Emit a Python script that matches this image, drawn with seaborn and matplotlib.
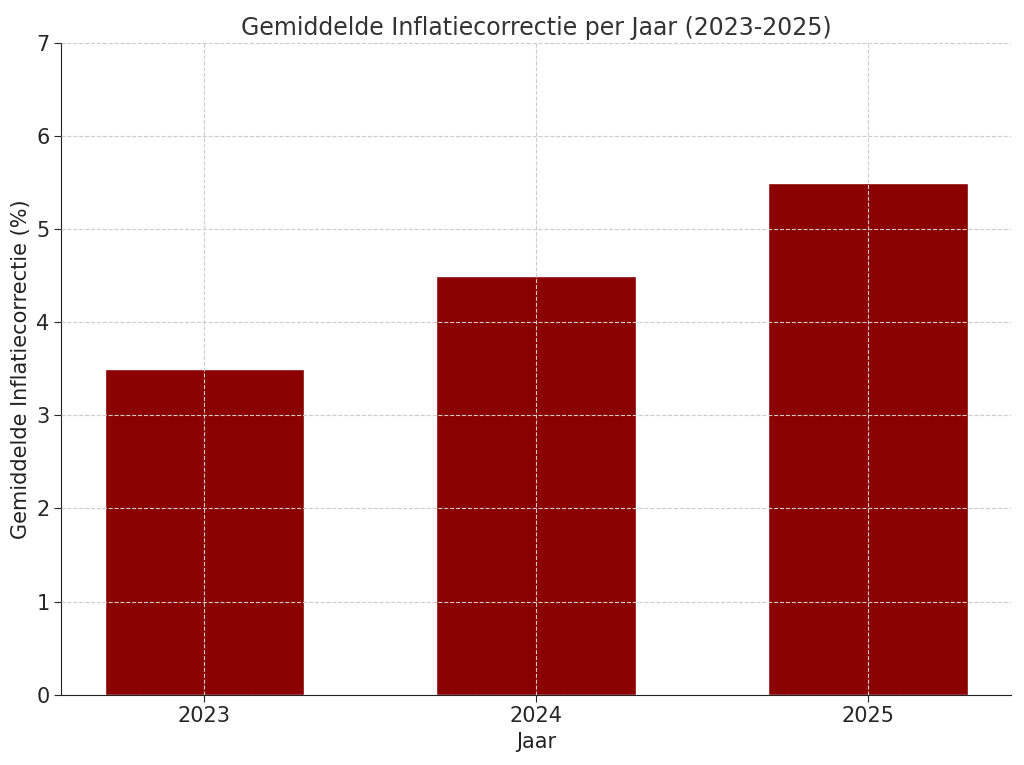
import matplotlib
matplotlib.use("Agg")
import matplotlib.pyplot as plt
import seaborn as sns
import pandas as pd

# Chart data
years = ["2023", "2024", "2025"]
inflation = [3.5, 4.5, 5.5]

df = pd.DataFrame({"Jaar": years, "Inflatie": inflation})

sns.set_style("white")
plt.rcParams['font.family'] = ['DejaVu Sans']

fig, ax = plt.subplots(figsize=(10.24, 7.65), dpi=100)
sns.barplot(data=df, x="Jaar", y="Inflatie", color="darkred", saturation=1, width=0.6, ax=ax)

ax.set_ylim(0, 7)
ax.set_xlim(-0.43, 2.43)
ax.set_title("Gemiddelde Inflatiecorrectie per Jaar (2023-2025)", fontsize=17, color="#333333")
ax.set_xlabel("Jaar", fontsize=15, color="#222222")
ax.set_ylabel("Gemiddelde Inflatiecorrectie (%)", fontsize=15, color="#222222")
ax.tick_params(axis="both", labelsize=15, length=5, left=True, bottom=True)
ax.set_axisbelow(False)
ax.grid(True, linestyle="--", color="#cccccc", linewidth=0.8)
for s in ["top", "right"]:
    ax.spines[s].set_visible(False)
for s in ["left", "bottom"]:
    ax.spines[s].set_color("#222222")

plt.subplots_adjust(left=0.06, right=0.987, top=0.944, bottom=0.092)
plt.savefig("out.png")
